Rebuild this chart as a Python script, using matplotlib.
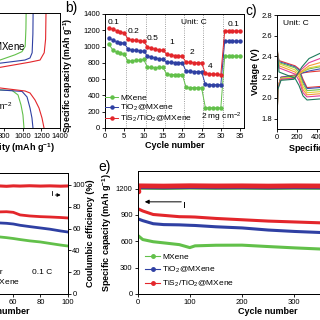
import matplotlib
matplotlib.use("Agg")
import matplotlib.pyplot as plt
import numpy as np

plt.rcParams['font.family'] = ['Liberation Sans', 'DejaVu Sans']
plt.rcParams['mathtext.default'] = 'regular'
plt.rcParams['axes.linewidth'] = 0.7

RED = '#e3262b'
BLUE = '#2f40a3'
GREEN = '#62c04a'
names = ['MXene', 'TiO$_2$@MXene', 'TiS$_2$/TiO$_2$@MXene']

# ---- panel a: charge/discharge profiles at 0.1 C
a_chg_cap = [[0, 20, 200, 500, 754, 915, 990, 1025, 1033, 1036],
             [0, 20, 200, 500, 754, 1022, 1077, 1100, 1108, 1111],
             [0, 20, 200, 500, 754, 1077, 1185, 1230, 1245, 1250]]
a_chg_v = [[1.75, 2.20, 2.24, 2.30, 2.35, 2.40, 2.43, 2.48, 2.65, 2.85],
           [1.75, 2.19, 2.22, 2.28, 2.32, 2.35, 2.37, 2.42, 2.60, 2.85],
           [1.75, 2.18, 2.20, 2.25, 2.28, 2.33, 2.35, 2.42, 2.55, 2.85]]
a_dis_cap = [[0, 15, 200, 300, 500, 754, 883, 948, 980, 1001, 1012],
             [0, 15, 200, 300, 500, 754, 991, 1045, 1077, 1098, 1109],
             [0, 15, 200, 300, 500, 754, 1023, 1077, 1131, 1174, 1206, 1228]]
a_dis_v = [[2.55, 2.38, 2.32, 2.12, 2.08, 2.064, 2.06, 2.016, 1.92, 1.824, 1.70],
           [2.55, 2.39, 2.33, 2.13, 2.09, 2.064, 2.05, 1.997, 1.891, 1.796, 1.70],
           [2.55, 2.40, 2.34, 2.14, 2.10, 2.083, 2.054, 2.035, 1.968, 1.891, 1.796, 1.70]]

# ---- panel b: rate capability
b_cycles = list(range(1, 36))
b_mx = [1030, 960, 930, 915, 905, 818, 825, 830, 835, 842, 745, 743, 742, 743, 743,
        660, 657, 657, 656, 657, 500, 497, 496, 495, 495, 250, 248, 248, 247, 248,
        880, 882, 882, 883, 883]
b_tio = [1105, 1080, 1060, 1050, 1040, 968, 960, 955, 948, 942, 882, 870, 860, 850, 842,
         808, 805, 804, 803, 802, 697, 694, 693, 692, 692, 535, 533, 532, 532, 531,
         1065, 1066, 1066, 1067, 1067]
b_tis = [1230, 1215, 1195, 1180, 1165, 1090, 1082, 1075, 1070, 1065, 992, 980, 968, 960, 954,
         905, 898, 890, 885, 880, 808, 805, 803, 802, 800, 670, 665, 662, 660, 657,
         1189, 1190, 1190, 1191, 1191]
b_rates = ['0.1', '0.2', '0.5', '1', '2', '4', '0.1']
b_rate_x = [2.1, 7.3, 12.3, 17.2, 22.4, 27.3, 33.2]
b_rate_y = [1290, 1180, 1100, 1050, 930, 760, 1270]

# ---- panel c: profiles at different rates (Unit: C)
c_colors = ['#e53935', '#3f51b5', '#72c24f', '#e3cf3a', '#f39c34', '#e0409a', '#1e7b5c']
c_dis_cap = [0, 20, 180, 220, 260, 300, 430, 520]
c_dis_v = [[2.45, 2.36, 2.31, 2.28, 2.18, 2.10, 2.11, 2.11],
           [2.45, 2.35, 2.30, 2.27, 2.16, 2.09, 2.10, 2.10],
           [2.46, 2.34, 2.29, 2.25, 2.14, 2.07, 2.08, 2.08],
           [2.47, 2.33, 2.27, 2.23, 2.11, 2.05, 2.06, 2.06],
           [2.48, 2.31, 2.25, 2.20, 2.08, 2.03, 2.04, 2.04],
           [2.50, 2.29, 2.23, 2.17, 2.05, 2.01, 2.02, 2.02],
           [2.52, 2.25, 2.19, 2.12, 2.02, 1.98, 1.99, 1.99]]
c_chg_cap = [0, 8, 40, 170, 250, 320, 430, 520]
c_chg_v = [[1.72, 2.10, 2.20, 2.22, 2.24, 2.25, 2.26, 2.27],
           [1.72, 2.10, 2.20, 2.21, 2.24, 2.26, 2.28, 2.29],
           [1.72, 2.10, 2.19, 2.21, 2.25, 2.28, 2.30, 2.31],
           [1.72, 2.10, 2.19, 2.20, 2.25, 2.29, 2.31, 2.32],
           [1.72, 2.10, 2.18, 2.19, 2.26, 2.31, 2.34, 2.35],
           [1.72, 2.09, 2.18, 2.19, 2.28, 2.34, 2.38, 2.39],
           [1.72, 2.08, 2.17, 2.18, 2.30, 2.38, 2.43, 2.44]]

# ---- panel d: cycling at 0.1 C
d_cycles = [1, 10, 20, 30, 40, 50, 55, 60, 65, 72, 80, 87, 95, 100]
d_tis = [1150, 1020, 990, 970, 955, 950, 952, 945, 915, 903, 895, 891, 885, 880]
d_tio = [1000, 900, 870, 850, 835, 822, 818, 810, 795, 780, 764, 750, 729, 718]
d_mx = [800, 720, 700, 685, 670, 660, 652, 642, 630, 615, 602, 585, 566, 556]
d_ce = [96, 98.5, 99, 99.2, 99, 99.1, 98.8, 99.2, 99, 99.3, 99, 99.2, 98.9, 99.1]

# ---- panel e: long cycling
e_cycles = [1, 10, 30, 50, 80, 100, 110, 150, 200, 250, 300, 350, 400, 450, 500]
e_tis = [970, 945, 905, 895, 880, 878, 876, 860, 845, 830, 820, 810, 800, 790, 780]
e_tio = [855, 835, 800, 790, 787, 782, 780, 765, 752, 728, 712, 700, 690, 680, 670]
e_mx = [665, 620, 595, 582, 562, 528, 548, 555, 556, 540, 525, 512, 505, 498, 490]
e_ce_cycles = [1, 3, 50, 100, 150, 200, 250, 300, 350, 400, 450, 500]
e_ce_tis = [95.5, 100.2, 100.0, 100.3, 100.1, 100.2, 100.0, 100.2, 100.1, 100.3, 100.1, 100.2]
e_ce_tio = [97.0, 98.8, 98.6, 98.9, 98.7, 98.8, 98.6, 98.8, 98.7, 98.9, 98.7, 98.8]
e_ce_mx = [96.5, 98.2, 98.0, 98.3, 98.1, 98.2, 98.0, 98.2, 98.1, 98.3, 98.1, 98.2]

fig = plt.figure(figsize=(3.2, 3.2), dpi=100)


def add_ax(l, t, r, b):
    return fig.add_axes([l / 320, 1 - b / 320, (r - l) / 320, (b - t) / 320])


def style(ax):
    ax.tick_params(labelsize=5.5, length=2, width=0.6, pad=1.5, direction='out')


lab = dict(fontsize=6.5, fontweight='bold', labelpad=1)

# a
ax = add_ax(-70, 13, 60, 128)
for i, c in enumerate([GREEN, BLUE, RED]):
    ax.plot(a_chg_cap[i], a_chg_v[i], color=c, lw=0.8)
    ax.plot(a_dis_cap[i], a_dis_v[i], color=c, lw=0.8)
ax.set_xlim(0, 1400)
ax.set_ylim(1.7, 2.8)
ax.set_xticks(range(0, 1401, 200))
ax.set_xlabel('Specific capacity (mAh g$^{-1}$)', **lab)
style(ax)
ax.text(1030, 2.47, 'TiS$_2$/TiO$_2$@MXene', fontsize=7, ha='right', va='center')
ax.text(890, 1.90, '2 mg cm$^{-2}$', fontsize=6.5, ha='right', va='center')

# b
ax = add_ax(105, 14, 244, 128)
for x in [5.5, 10.5, 15.5, 20.5, 25.5, 30.5]:
    ax.axvline(x, color='grey', ls=':', lw=0.6)
for y, c, n in zip([b_mx, b_tio, b_tis], [GREEN, BLUE, RED], names):
    ax.plot(b_cycles, y, color=c, lw=0.7, marker='o', ms=2.2, mfc=c, mec=c, label=n)
for t, x, y in zip(b_rates, b_rate_x, b_rate_y):
    ax.text(x, y, t, fontsize=6, ha='center', va='center')
ax.text(23, 1290, 'Unit: C', fontsize=6, ha='center', va='center')
ax.text(30, 125, '2 mg cm$^{-2}$', fontsize=6, ha='center', va='center')
ax.set_xlim(0, 36)
ax.set_ylim(0, 1400)
ax.set_xticks(range(0, 36, 5))
ax.set_yticks(range(0, 1401, 200))
ax.set_xlabel('Cycle number', **lab)
ax.set_ylabel('Specific capacity (mAh g$^{-1}$)', fontsize=6.3, fontweight='bold', labelpad=1)
ax.yaxis.set_label_coords(-0.215, 0.46)
style(ax)
ax.legend(loc='lower left', bbox_to_anchor=(105 / 320, 1 - 124 / 320), bbox_transform=fig.transFigure,
          frameon=False, fontsize=6, handlelength=1.6, handletextpad=0.2, labelspacing=0.1,
          borderpad=0, borderaxespad=0, numpoints=1)
fig.text(71 / 320, 1 - 8 / 320, 'b)', fontsize=10, ha='center', va='center')

# c
ax = add_ax(277, 15, 417, 129)
for i, c in enumerate(c_colors):
    ax.plot(c_dis_cap, c_dis_v[i], color=c, lw=0.8)
    ax.plot(c_chg_cap, c_chg_v[i], color=c, lw=0.8)
ax.set_xlim(0, 1400)
ax.set_ylim(1.7, 2.8)
ax.set_xticks(range(0, 1401, 200))
ax.set_yticks(np.arange(1.8, 2.81, 0.2))
ax.set_xlabel('Specific capacity (mAh g$^{-1}$)', **lab)
ax.set_ylabel('Voltage (V)', **lab)
ax.text(60, 2.72, 'Unit: C', fontsize=6, va='center')
style(ax)
fig.text(251 / 320, 1 - 11 / 320, 'c)', fontsize=10, ha='center', va='center')

# d
ax = add_ax(-68, 173, 67.5, 294)
for y, c in zip([d_mx, d_tio, d_tis], [GREEN, BLUE, RED]):
    ax.plot(d_cycles, y, color=c, lw=2.0)
ax.set_xlim(0, 100)
ax.set_ylim(0, 1400)
ax.set_xticks(range(0, 101, 20))
ax.set_xlabel('Cycle number', **lab)
style(ax)
ax2 = ax.twinx()
ax2.plot(d_cycles, d_ce, color=RED, lw=2.2)
ax2.set_ylim(0, 111)
ax2.set_yticks(range(0, 101, 20))
ax2.set_ylabel('Coulumbic efficiency (%)', **lab)
style(ax2)
ax2.annotate('', xy=(97, 90.8), xytext=(88.9, 90.8),
             arrowprops=dict(arrowstyle='-|>', color='k', lw=0.6, mutation_scale=5))
ax2.plot([88.9, 88.9], [94.5, 90.8], color='k', lw=0.6)
ax2.text(81.5, 19.3, '0.1 C', fontsize=6, ha='center', va='center')
ax2.text(52.5, 19.3, 'separator', fontsize=6, ha='right', va='center')
ax2.text(65, 10.0, 'TiS$_2$/TiO$_2$@MXene', fontsize=6, ha='right', va='center')

# e
ax = add_ax(137.5, 171, 399, 294)
for y, c, n in zip([e_mx, e_tio, e_tis], [GREEN, BLUE, RED], names):
    ax.plot(e_cycles, y, color=c, lw=2.2)
    ax.plot([], [], color=c, lw=0.8, marker='o', ms=2.5, label=n)
ax.set_xlim(0, 500)
ax.set_ylim(0, 1400)
ax.set_xticks(range(0, 501, 100))
ax.set_yticks(range(0, 1201, 300))
ax.set_xlabel('Cycle number', **lab)
ax.set_ylabel('Specific capacity (mAh g$^{-1}$)', **lab)
style(ax)
ax.legend(loc='lower left', bbox_to_anchor=(145 / 320, 1 - 289 / 320), bbox_transform=fig.transFigure,
          frameon=False, fontsize=6, handlelength=1.8, handletextpad=0.3, labelspacing=0.45,
          borderpad=0, borderaxespad=0, numpoints=1)
ax.annotate('', xy=(8.6, 1049), xytext=(89, 1049),
            arrowprops=dict(arrowstyle='-|>', color='k', lw=0.7, mutation_scale=6))
ax.plot([89, 89], [1049, 992], color='k', lw=0.7)
ax3 = ax.twinx()
for y, c, w in zip([e_ce_mx, e_ce_tio, e_ce_tis], [GREEN, BLUE, RED], [2.5, 2.5, 3.5]):
    ax3.plot(e_ce_cycles, y, color=c, lw=w)
ax3.plot(e_ce_cycles[:1], e_ce_tis[:1], 'o', color=RED, ms=3)
ax3.set_ylim(0, 114)
style(ax3)
fig.text(105 / 320, 1 - 167 / 320, 'e)', fontsize=10, ha='center', va='center')

fig.savefig('out.png', dpi=100)
